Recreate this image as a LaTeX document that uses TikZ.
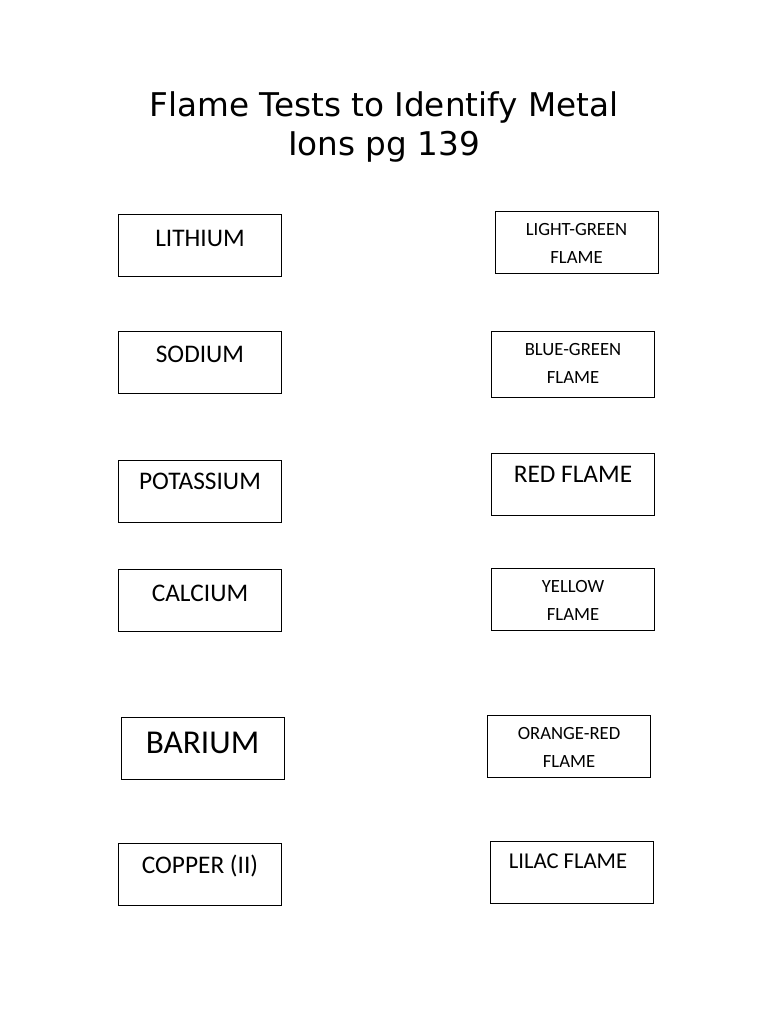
\documentclass[tikz,border=0pt]{standalone}
\usepackage{fontspec}
\setmainfont{Carlito}
\newfontfamily\titlefont{DejaVu Sans}
\begin{document}
\begin{tikzpicture}[x=0.75pt,y=-0.75pt,
  box/.style={draw,line width=0.6pt,minimum width=163*0.75pt,minimum height=62*0.75pt,inner sep=0pt},
  big/.style={font=\fontsize{19}{21}\selectfont},
  small/.style={font=\fontsize{14}{21.5}\selectfont,align=center}]
\useasboundingbox (0,0) rectangle (768,1024);
\node[font=\titlefont\fontsize{24.5}{29}\selectfont,align=center] (title) at (384,127) {Flame Tests to Identify Metal\\Ions pg 139};
% left boxes
\node[box] (li) at (200,245) {}; \node[big] (lit) at (200,238) {LITHIUM};
\node[box] (na) at (200,362) {}; \node[big] (nat) at (200,354) {SODIUM};
\node[box] (k) at (200,491) {}; \node[big] (kt) at (200,481) {POTASSIUM};
\node[box] (ca) at (200,600.5) {}; \node[big] (cat) at (200,593) {CALCIUM};
\node[box] (ba) at (202.5,748) {}; \node[font=\fontsize{25}{28}\selectfont] (bat) at (202.5,743) {BARIUM};
\node[box] (cu) at (200,874) {}; \node[big] (cut) at (200,866) {COPPER (II)};
% right boxes
\node[box] (lg) at (576.5,242) {}; \node[small] (lgt) at (576.5,243.5) {LIGHT-GREEN\\FLAME};
\node[box,minimum height=66*0.75pt] (bg) at (573,364) {}; \node[small] (bgt) at (573,363.5) {BLUE-GREEN\\FLAME};
\node[box] (red) at (573,484) {}; \node[big] (redt) at (573,474) {RED FLAME};
\node[box] (ye) at (573,599.5) {}; \node[small] (yet) at (573,600.5) {YELLOW\\FLAME};
\node[box] (or) at (569,746) {}; \node[small] (ort) at (569,747.5) {ORANGE-RED\\FLAME};
\node[box] (li2) at (572,872.5) {}; \node[font=\fontsize{17}{20}\selectfont] (li2t) at (568,861) {LILAC FLAME};
\end{tikzpicture}
\end{document}
